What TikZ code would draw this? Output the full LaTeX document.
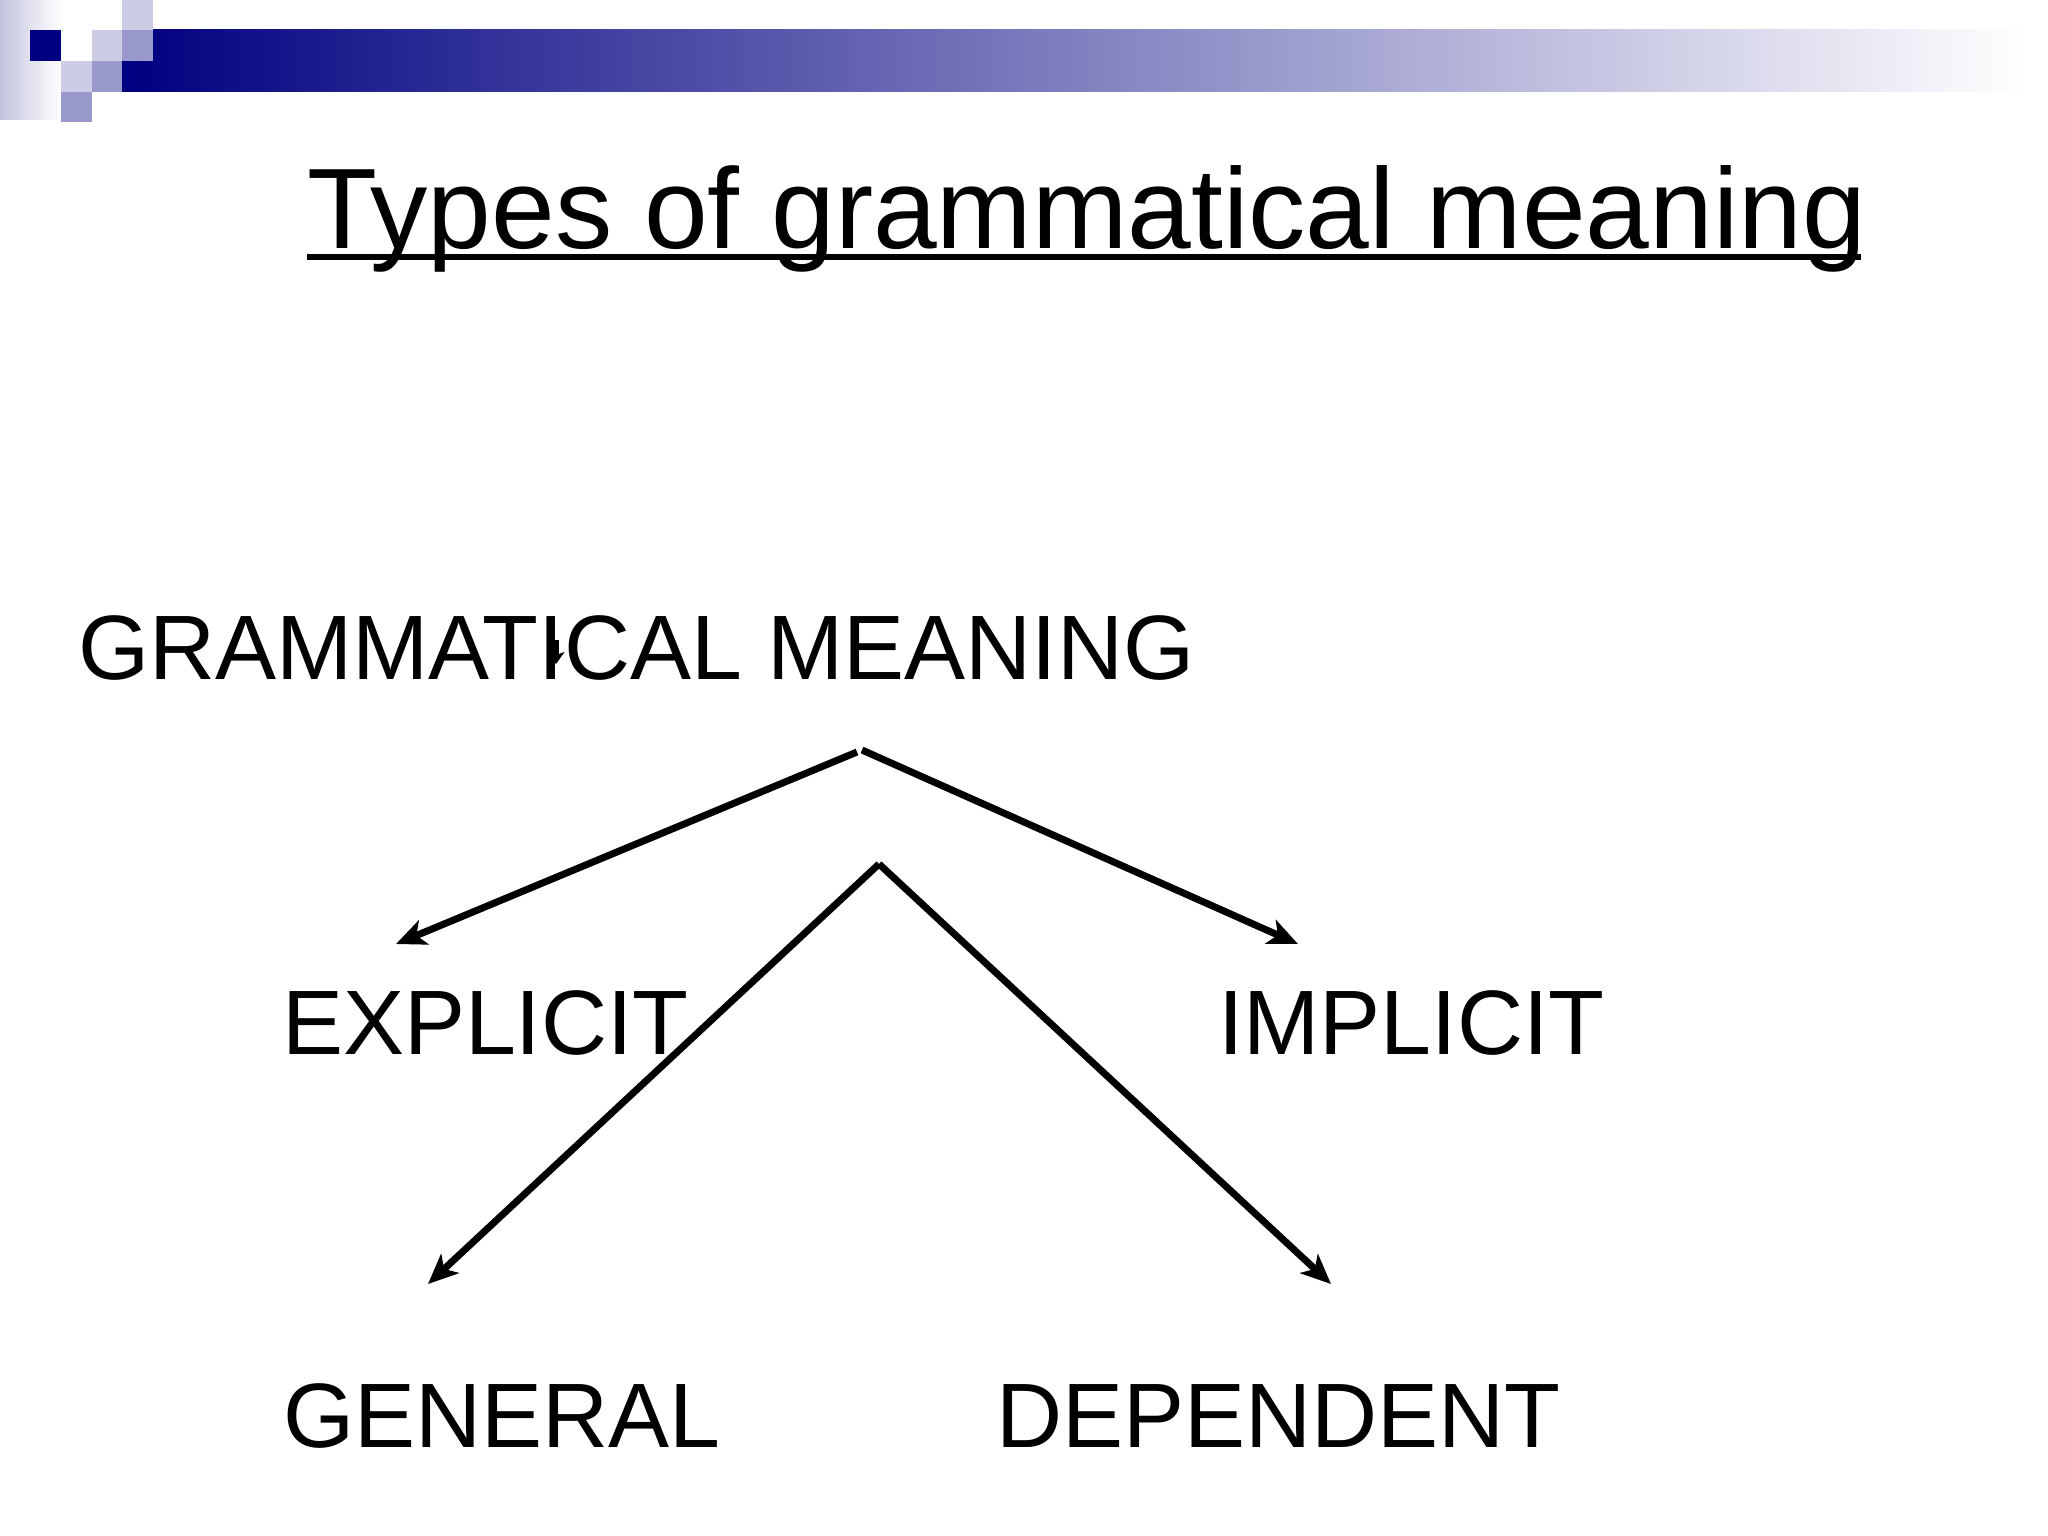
\documentclass[tikz,border=0pt]{standalone}
\usepackage{fontspec}
\setmainfont{Liberation Sans}
\usetikzlibrary{arrows.meta}
\definecolor{navy}{RGB}{0,0,128}
\definecolor{lightsq}{RGB}{204,204,230}
\definecolor{medsq}{RGB}{153,153,204}
\definecolor{stripc}{RGB}{196,196,224}
\tikzset{
  lbl/.style={anchor=base west, inner sep=0pt, outer sep=0pt, font=\fontsize{91.5}{100}\selectfont},
  ttl/.style={anchor=base west, inner sep=0pt, outer sep=0pt, font=\fontsize{114.5}{125}\selectfont},
  conn/.style={line width=7pt, -{Stealth[length=30pt,width=26pt,inset=8pt]}},
}
\begin{document}
\begin{tikzpicture}[x=1pt,y=-1pt]
\useasboundingbox (0,0) rectangle (2048,1536);
\fill[white] (0,0) rectangle (2048,1536);
% banner
\shade[left color=stripc, right color=white] (0,0) rectangle (62,120);
\shade[left color=navy, right color=white] (122,30) rectangle (2025,92);
\fill[navy] (30,30) rectangle (61,61);
\fill[lightsq] (92,30) rectangle (122,61);
\fill[medsq] (122,30) rectangle (153,61);
\fill[lightsq] (122,0) rectangle (153,30);
\fill[lightsq] (61,61) rectangle (92,92);
\fill[medsq] (92,61) rectangle (122,92);
\fill[medsq] (61,92) rectangle (122,122);
\fill[white] (92,92) rectangle (122,122);
% title
\node[ttl] (title) at (307,248) {Types of grammatical meaning};
\draw[line width=6pt] (title.base west |- 0,257) -- (1861,257);
% labels
\node[lbl] (gm) at (78,679) {GRAMMATICAL MEANING};
\node[lbl] (expl) at (282,1054) {EXPLICIT};
\node[lbl] (impl) at (1218,1054) {IMPLICIT};
\node[lbl] (gen) at (283,1447) {GENERAL};
\node[lbl] (dep) at (996,1447) {DEPENDENT};
% small mark on the I
\coordinate (markA) at (556,640);
\coordinate (markB) at (556,664);
\draw[line width=5pt, -{Stealth[length=12pt,width=17pt,inset=3pt]}] (markA) -- (markB);
% connectors
\coordinate (sL) at (857,752);
\coordinate (sR) at (862,750);
\coordinate (apex) at (879,864);
\coordinate (tExpl) at (396,944);
\coordinate (tImpl) at (1298,944);
\coordinate (tGen) at (428,1284);
\coordinate (tDep) at (1331,1284);
\draw[conn] (sL) -- (tExpl);
\draw[conn] (sR) -- (tImpl);
\draw[conn] (apex) -- (tGen);
\draw[conn] (apex) -- (tDep);
\end{tikzpicture}
\end{document}
